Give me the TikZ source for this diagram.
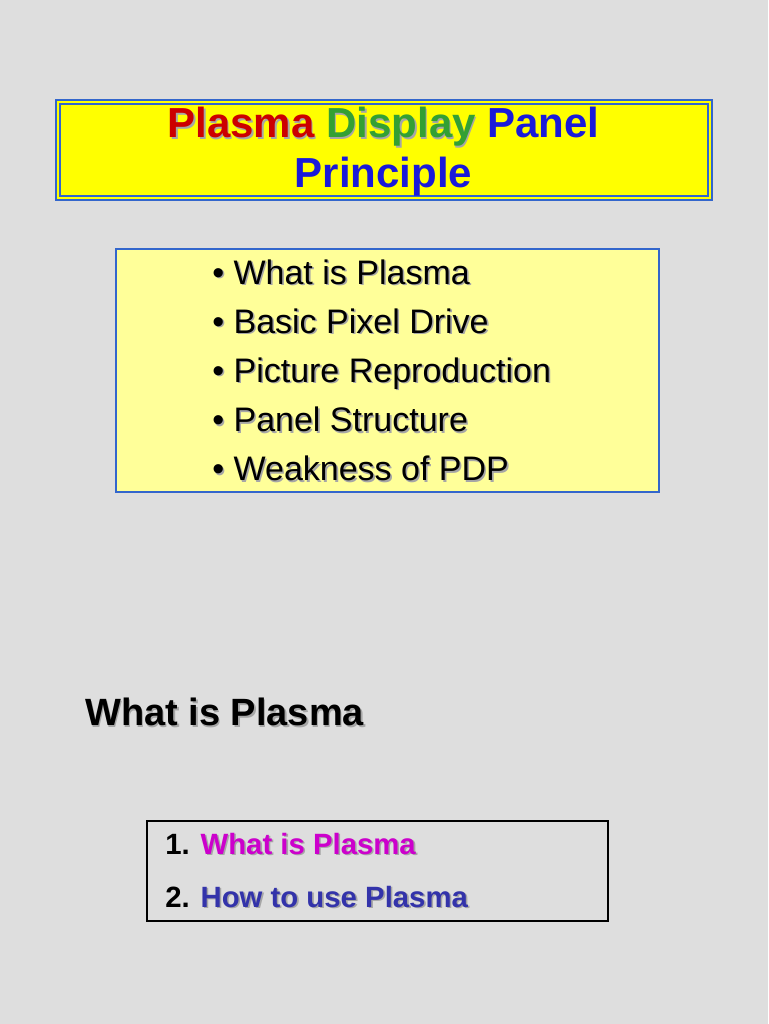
\documentclass[tikz,border=0pt]{standalone}
\usepackage{fontspec}
\setmainfont{Liberation Sans}
\definecolor{bg}{HTML}{DEDEDE}
\definecolor{ttl}{HTML}{FFFF00}
\definecolor{lite}{HTML}{FFFF99}
\definecolor{bblue}{HTML}{3366CC}
\definecolor{tblue}{HTML}{1A1AD9}
\definecolor{tred}{HTML}{CC0000}
\definecolor{tgreen}{HTML}{33A033}
\definecolor{mag}{HTML}{CC00CC}
\definecolor{nblue}{HTML}{3333AA}
\newcommand{\shd}[2]{\makebox[0pt][l]{\kern1.2pt\raisebox{-1.2pt}{\color{gray!70}#2}}{\color{#1}#2}}
\begin{document}
\begin{tikzpicture}[x=0.75pt,y=-0.75pt,
  txt/.style={inner sep=0pt,anchor=west,align=left}]
\useasboundingbox[fill=bg] (0,0) rectangle (768,1024);
\node[draw=bblue,line width=1.5pt,double=ttl,double distance=1.5pt,fill=ttl,minimum width=489pt,minimum height=72pt,inner sep=0pt] (title) at (383.5,150) {};
\node[inner sep=0pt,align=center,font=\fontsize{31.5}{37.5}\selectfont\bfseries] (tt) at (383.5,152) {\shd{tred}{Plasma} \shd{tgreen}{Display} {\color{tblue}Panel}\\{\color{tblue}Principle}};
\node[draw=bblue,line width=0.8pt,fill=lite,minimum width=407.25pt,minimum height=182.25pt,inner sep=0pt] (list) at (387.5,370.5) {};
\node[txt,font=\fontsize{25.5}{36.8}\selectfont] (items) at (212,371) {\shd{black}{• What is Plasma}\\\shd{black}{• Basic Pixel Drive}\\\shd{black}{• Picture Reproduction}\\\shd{black}{• Panel Structure}\\\shd{black}{• Weakness of PDP}};
\node[txt,font=\fontsize{28.5}{30}\selectfont\bfseries] (head) at (85,713) {\shd{black}{What is Plasma}};
\node[draw=black,line width=1.5pt,minimum width=345.75pt,minimum height=75pt,inner sep=0pt] (menu) at (377.5,871) {};
\node[txt,font=\fontsize{22}{40}\selectfont\bfseries] (m) at (165,871) {1. \shd{mag}{What is Plasma}\\2. \shd{nblue}{How to use Plasma}};
\end{tikzpicture}
\end{document}
